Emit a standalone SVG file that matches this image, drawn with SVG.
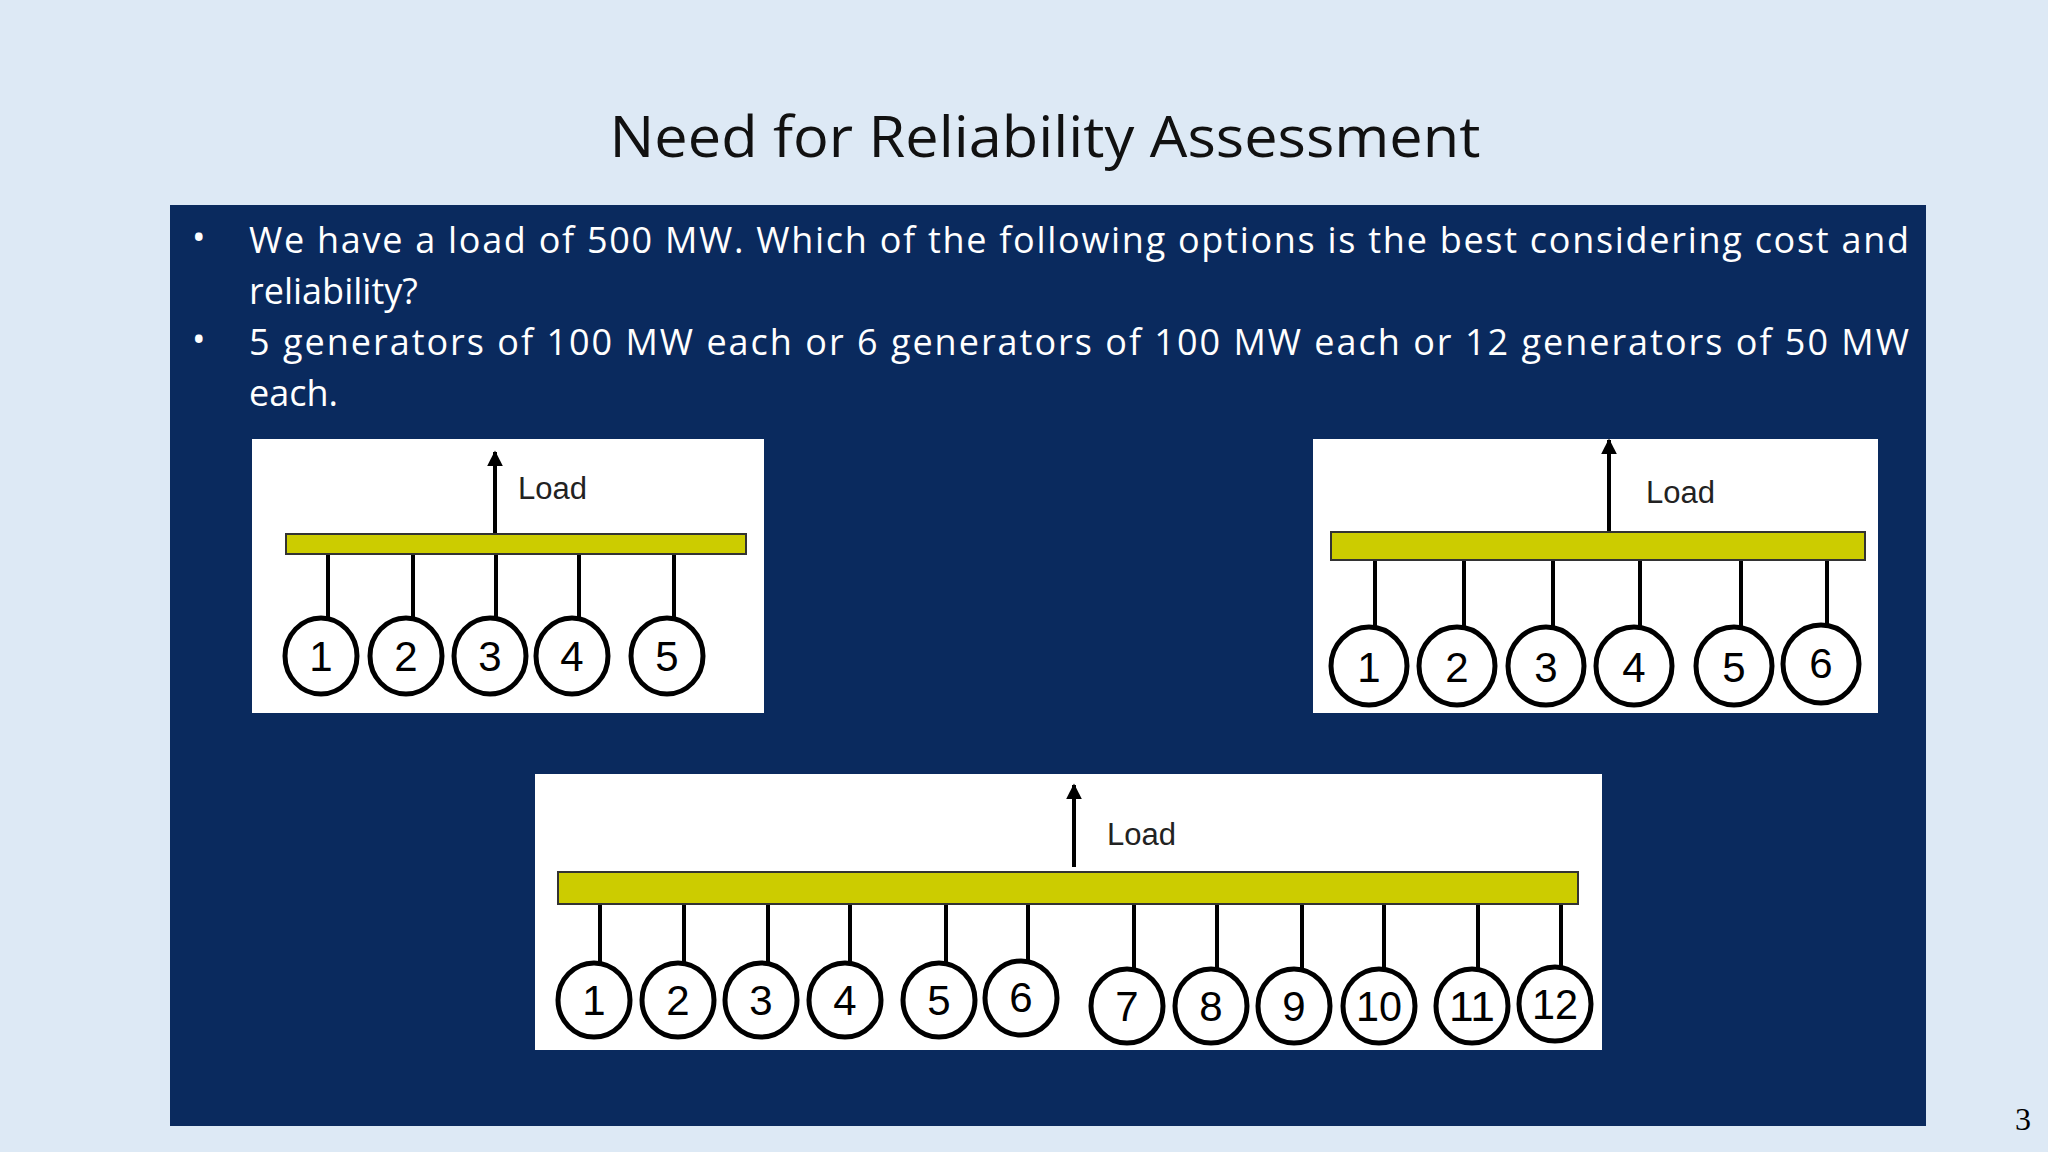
<svg xmlns="http://www.w3.org/2000/svg" width="2048" height="1152" viewBox="0 0 2048 1152">
<defs>
<marker id="ah" viewBox="0 0 10 10" refX="9" refY="5" markerWidth="4" markerHeight="5" orient="auto" markerUnits="strokeWidth"><path d="M0,0 L10,5 L0,10 z" fill="#000"/></marker>
</defs>
<style>
.bt{font-family:"Open Sans","Liberation Sans",sans-serif;font-size:36px;fill:#fff}
.num{font-family:"Liberation Sans",Arial,sans-serif;font-size:42px;fill:#000;text-anchor:middle}
.ld{font-family:"Liberation Sans",Arial,sans-serif;font-size:31px;fill:#222}
.g{fill:#fff;stroke:#000;stroke-width:5}
.bus{fill:#cccc00;stroke:#333;stroke-width:2}
.st{stroke:#000;stroke-width:4;fill:none}
.ar{stroke:#000;stroke-width:4;fill:none;marker-end:url(#ah)}
</style>
<rect width="2048" height="1152" fill="#dde9f5"/>
<text x="1045" y="157" font-family="Open Sans, Liberation Sans, sans-serif" font-size="57" fill="#111" text-anchor="middle" textLength="871" lengthAdjust="spacingAndGlyphs">Need for Reliability Assessment</text>
<rect x="170" y="205" width="1756" height="921" fill="#0a2a5e"/>
<g id="bullets">
<text x="192" y="250" class="bt" font-size="22">•</text>
<text x="249" y="253" class="bt" textLength="1660" lengthAdjust="spacing">We have a load of 500 MW. Which of the following options is the best considering cost and</text>
<text x="249" y="304" class="bt">reliability?</text>
<text x="192" y="352" class="bt" font-size="22">•</text>
<text x="249" y="355" class="bt" textLength="1660" lengthAdjust="spacing">5 generators of 100 MW each or 6 generators of 100 MW each or 12 generators of 50 MW</text>
<text x="249" y="406" class="bt">each.</text>
</g>
<g id="diagram1">
<rect x="252" y="439" width="512" height="274" fill="#fff"/>
<g class="connectors">
<line class="ar" x1="495" y1="534" x2="495" y2="452"/>
<path class="st" d="M328 554V620M413 554V620M496 554V620M579 554V620M674 554V620"/>
</g>
<rect class="bus" x="286" y="534" width="460" height="20"/>
<text class="ld" x="518" y="499">Load</text>
<ellipse class="g" cx="321" cy="656" rx="36" ry="38"/><text class="num" x="321" y="671">1</text>
<ellipse class="g" cx="406" cy="656" rx="36" ry="38"/><text class="num" x="406" y="671">2</text>
<ellipse class="g" cx="490" cy="656" rx="36" ry="38"/><text class="num" x="490" y="671">3</text>
<ellipse class="g" cx="572" cy="656" rx="36" ry="38"/><text class="num" x="572" y="671">4</text>
<ellipse class="g" cx="667" cy="656" rx="36" ry="38"/><text class="num" x="667" y="671">5</text>
</g>
<g id="diagram2">
<rect x="1313" y="439" width="565" height="274" fill="#fff"/>
<g class="connectors">
<line class="ar" x1="1609" y1="532" x2="1609" y2="440"/>
<path class="st" d="M1375 560V630M1464 560V630M1553 560V630M1640 560V630M1741 560V630M1827 560V628"/>
</g>
<rect class="bus" x="1331" y="532" width="534" height="28"/>
<text class="ld" x="1646" y="503">Load</text>
<ellipse class="g" cx="1369" cy="666" rx="38" ry="39"/><text class="num" x="1369" y="682">1</text>
<ellipse class="g" cx="1457" cy="666" rx="38" ry="39"/><text class="num" x="1457" y="682">2</text>
<ellipse class="g" cx="1546" cy="666" rx="38" ry="39"/><text class="num" x="1546" y="682">3</text>
<ellipse class="g" cx="1634" cy="666" rx="38" ry="39"/><text class="num" x="1634" y="682">4</text>
<ellipse class="g" cx="1734" cy="666" rx="38" ry="39"/><text class="num" x="1734" y="682">5</text>
<ellipse class="g" cx="1821" cy="664" rx="38" ry="39"/><text class="num" x="1821" y="678">6</text>
</g>
<g id="diagram3">
<rect x="535" y="774" width="1067" height="276" fill="#fff"/>
<g class="connectors">
<line class="ar" x1="1074" y1="867" x2="1074" y2="785"/>
<path class="st" d="M600 904V965M684 904V965M768 904V965M850 904V965M946 904V965M1028 904V963M1134 904V970M1217 904V970M1302 904V970M1384 904V970M1478 904V970M1561 904V970"/>
</g>
<rect class="bus" x="558" y="872" width="1020" height="32"/>
<text class="ld" x="1107" y="845">Load</text>
<ellipse class="g" cx="594" cy="1000" rx="36" ry="37"/><text class="num" x="594" y="1015">1</text>
<ellipse class="g" cx="678" cy="1000" rx="36" ry="37"/><text class="num" x="678" y="1015">2</text>
<ellipse class="g" cx="761" cy="1000" rx="36" ry="37"/><text class="num" x="761" y="1015">3</text>
<ellipse class="g" cx="845" cy="1000" rx="36" ry="37"/><text class="num" x="845" y="1015">4</text>
<ellipse class="g" cx="939" cy="1000" rx="36" ry="37"/><text class="num" x="939" y="1015">5</text>
<ellipse class="g" cx="1021" cy="998" rx="36" ry="37"/><text class="num" x="1021" y="1012">6</text>
<ellipse class="g" cx="1127" cy="1006" rx="36" ry="37"/><text class="num" x="1127" y="1021">7</text>
<ellipse class="g" cx="1211" cy="1006" rx="36" ry="37"/><text class="num" x="1211" y="1021">8</text>
<ellipse class="g" cx="1294" cy="1006" rx="36" ry="37"/><text class="num" x="1294" y="1021">9</text>
<ellipse class="g" cx="1379" cy="1006" rx="36" ry="37"/><text class="num" x="1379" y="1021" textLength="46" lengthAdjust="spacingAndGlyphs">10</text>
<ellipse class="g" cx="1472" cy="1006" rx="36" ry="37"/><text class="num" x="1472" y="1021" textLength="46" lengthAdjust="spacingAndGlyphs">11</text>
<ellipse class="g" cx="1555" cy="1004" rx="36" ry="37"/><text class="num" x="1555" y="1019" textLength="46" lengthAdjust="spacingAndGlyphs">12</text>
</g>
<text x="2023" y="1130" font-family="Liberation Serif, serif" font-size="32" fill="#000" text-anchor="middle">3</text>
</svg>
